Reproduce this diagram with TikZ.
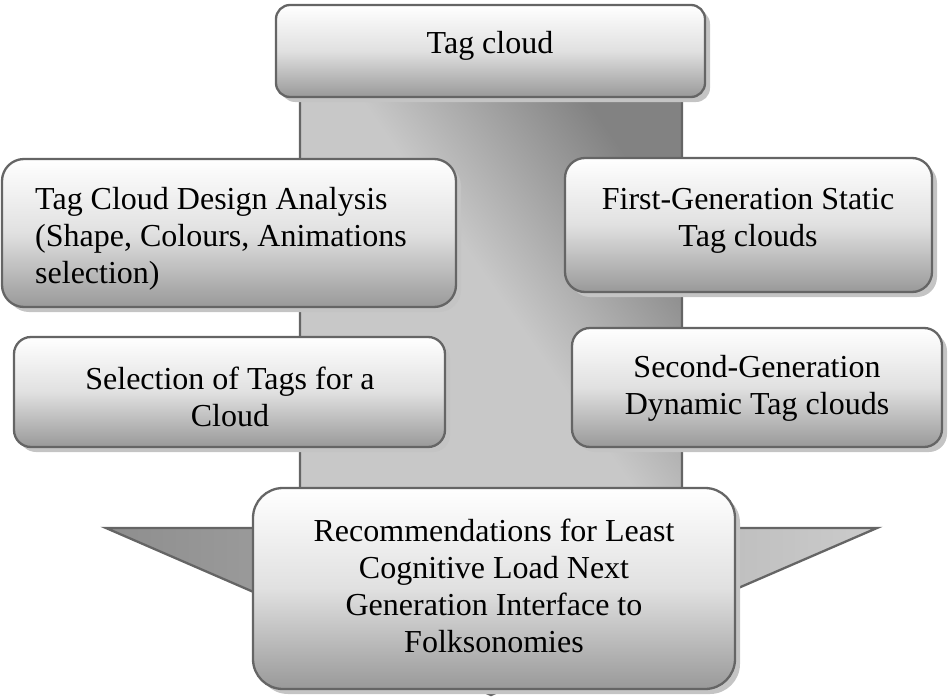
\documentclass[tikz,border=0pt]{standalone}
\usepackage{fontspec}
\setmainfont{Liberation Serif}
\usetikzlibrary{shadows}
\definecolor{bord}{HTML}{656565}
\definecolor{shd}{HTML}{C4C4C4}
\definecolor{stemL}{HTML}{C8C8C8}
\definecolor{stemD}{HTML}{828282}
\definecolor{headL}{HTML}{CBCBCB}
\definecolor{headD}{HTML}{8E8E8E}
\pgfdeclarehorizontalshading{stemshade}{100bp}{color(0bp)=(stemL); color(25bp)=(stemL); color(52bp)=(stemL); color(75bp)=(stemD); color(100bp)=(stemD)}
\newcommand\mlines[2]{\begin{tabular}[t]{@{}#1@{}}#2\end{tabular}}
\tikzset{
  box/.style={draw=bord, line width=2.3pt, top color=white, bottom color=black!40,
    middle color=black!12,
    drop shadow={shadow xshift=5pt, shadow yshift=-5pt, fill=shd, opacity=1},
    inner sep=0pt},
  lbl/.style={font=\fontsize{32}{37}\selectfont, inner sep=0pt, anchor=base},
  edge/.style={draw=bord, line width=2.3pt, line join=miter}
}
\begin{document}
\begin{tikzpicture}[x=1pt, y=-1pt]
\useasboundingbox (0,0) rectangle (948,699);
% arrow stem and head
\fill[shading=stemshade, shading angle=35] (300,98) rectangle (682,528);
\fill[left color=headD, right color=headL] (106,528) -- (877,528) -- (491,695) -- cycle;
\draw[edge] (300,98) -- (300,528) -- (106,528) -- (491,695) -- (877,528) -- (682,528) -- (682,98);
% boxes
\node[box, rounded corners=14pt, minimum width=429pt, minimum height=92pt] (btop) at (490.5,51) {};
\node[box, rounded corners=22pt, minimum width=454pt, minimum height=148pt] (bl1) at (229,233) {};
\node[box, rounded corners=20pt, minimum width=367pt, minimum height=134pt] (br1) at (748.5,225) {};
\node[box, rounded corners=17pt, minimum width=431pt, minimum height=110pt] (bl2) at (229.5,392) {};
\node[box, rounded corners=18pt, minimum width=370pt, minimum height=119pt] (br2) at (757,387.5) {};
\node[box, rounded corners=30pt, minimum width=482pt, minimum height=201pt] (bbot) at (494,588.5) {};
% texts
\node[lbl] (ttop) at (490,53) {Tag cloud};
\node[lbl, anchor=base west] (tl1) at (35,209) {\mlines{l}{Tag Cloud Design Analysis\\(Shape, Colours, Animations\\selection)}};
\node[lbl] (tr1) at (748,209) {\mlines{c}{First-Generation Static\\Tag clouds}};
\node[lbl] (tl2) at (230,389) {\mlines{c}{Selection of Tags for a\\Cloud}};
\node[lbl] (tr2) at (757,377) {\mlines{c}{Second-Generation\\Dynamic Tag clouds}};
\node[lbl] (tbot) at (494,541) {\mlines{c}{Recommendations for Least\\Cognitive Load Next\\Generation Interface to\\Folksonomies}};
\end{tikzpicture}
\end{document}
